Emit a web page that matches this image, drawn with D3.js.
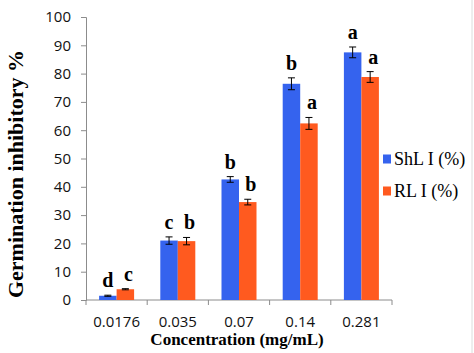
<!DOCTYPE html>
<html>
<head>
<meta charset="utf-8">
<script src="https://cdn.jsdelivr.net/npm/d3@7"></script>
<style>
  body { margin: 0; background: #fff; }
  svg { display: block; }
</style>
</head>
<body>
<div id="chart"></div>
<script>
// germination inhibition by concentration, two series with error bars and letter groups
const categories = ["0.0176", "0.035", "0.07", "0.14", "0.281"];
const seriesNames = ["ShL I (%)", "RL I (%)"];
const shlValues = [1.5, 21.0, 42.6, 76.4, 87.5];
const rlValues = [3.8, 20.8, 34.6, 62.4, 78.8];
const shlErrors = [0.2, 1.3, 1.0, 2.1, 1.9];
const rlErrors = [0.2, 1.3, 1.0, 2.1, 1.9];
const shlLetters = ["d", "c", "b", "b", "a"];
const rlLetters = ["c", "b", "b", "a", "a"];
const yTicks = [0, 10, 20, 30, 40, 50, 60, 70, 80, 90, 100];

const W = 474, H = 353;
const margin = { top: 17, right: 82, bottom: 53, left: 86 };
const width = W - margin.left - margin.right;
const height = H - margin.top - margin.bottom;
const colors = ["#3563ee", "#ff5a1f"];

const svg = d3.select("#chart")
  .append("svg")
  .attr("width", W)
  .attr("height", H);

// light frame line at the right edge
svg.append("line")
  .attr("x1", 472).attr("x2", 472)
  .attr("y1", 0).attr("y2", H)
  .attr("stroke", "#dcdcdc");

const g = svg.append("g")
  .attr("transform", `translate(${margin.left},${margin.top})`);

const x0 = d3.scaleBand().domain(categories).range([0, width]).padding(0);
const groupW = 35;
const x1 = d3.scaleBand().domain(seriesNames).range([0, groupW]).padding(0);
const y = d3.scaleLinear().domain([0, 100]).range([height, 0]);

// y axis
const yAxis = g.append("g")
  .call(d3.axisLeft(y).tickValues(yTicks).tickSize(5).tickPadding(10));
yAxis.select(".domain").attr("stroke", "#8c8c8c");
yAxis.selectAll(".tick line").attr("stroke", "#8c8c8c");
yAxis.selectAll("text")
  .attr("font-family", "Open Sans")
  .attr("font-size", 15)
  .attr("fill", "#111");

// x axis, ticks at category boundaries
const xAxis = g.append("g")
  .attr("transform", `translate(0,${height})`);
xAxis.append("line")
  .attr("x1", 0).attr("x2", width)
  .attr("stroke", "#8c8c8c");
const bounds = categories.map(c => x0(c)).concat([width]);
xAxis.selectAll(".xtick")
  .data(bounds)
  .enter().append("line")
  .attr("x1", d => d).attr("x2", d => d)
  .attr("y1", 0).attr("y2", 5)
  .attr("stroke", "#8c8c8c");
xAxis.selectAll(".xlabel")
  .data(categories)
  .enter().append("text")
  .attr("x", d => x0(d) + x0.bandwidth() / 2)
  .attr("y", 27)
  .attr("text-anchor", "middle")
  .attr("font-family", "Open Sans")
  .attr("font-size", 15)
  .attr("fill", "#111")
  .text(d => d);

const rows = categories.map((c, i) => ({
  cat: c,
  items: [
    { name: seriesNames[0], v: shlValues[i], e: shlErrors[i], l: shlLetters[i], k: 0 },
    { name: seriesNames[1], v: rlValues[i], e: rlErrors[i], l: rlLetters[i], k: 1 }
  ]
}));

const groups = g.selectAll(".grp")
  .data(rows)
  .enter().append("g")
  .attr("transform", d => `translate(${x0(d.cat) + (x0.bandwidth() - groupW) / 2},0)`);

const items = groups.selectAll(".item")
  .data(d => d.items)
  .enter().append("g");

items.append("rect")
  .attr("x", d => x1(d.name))
  .attr("y", d => y(d.v))
  .attr("width", x1.bandwidth())
  .attr("height", d => height - y(d.v))
  .attr("fill", d => colors[d.k]);

const cx = d => x1(d.name) + x1.bandwidth() / 2;
items.append("line")
  .attr("x1", cx).attr("x2", cx)
  .attr("y1", d => y(d.v + d.e)).attr("y2", d => y(d.v - d.e))
  .attr("stroke", "#000");
items.append("line")
  .attr("x1", d => cx(d) - 3.5).attr("x2", d => cx(d) + 3.5)
  .attr("y1", d => y(d.v + d.e)).attr("y2", d => y(d.v + d.e))
  .attr("stroke", "#000");
items.append("line")
  .attr("x1", d => cx(d) - 3.5).attr("x2", d => cx(d) + 3.5)
  .attr("y1", d => y(d.v - d.e)).attr("y2", d => y(d.v - d.e))
  .attr("stroke", "#000");

items.append("text")
  .attr("x", d => cx(d) + d.k * 3)
  .attr("y", d => y(d.v + d.e) - 8)
  .attr("text-anchor", "middle")
  .attr("font-family", "Liberation Serif")
  .attr("font-weight", "bold")
  .attr("font-size", 20)
  .text(d => d.l);

// axis titles
svg.append("text")
  .attr("transform", "translate(23,174) rotate(-90)")
  .attr("text-anchor", "middle")
  .attr("font-family", "Liberation Serif")
  .attr("font-weight", "bold")
  .attr("font-size", 22)
  .text("Germination inhibitory %");

svg.append("text")
  .attr("x", 237)
  .attr("y", 345)
  .attr("text-anchor", "middle")
  .attr("font-family", "Liberation Serif")
  .attr("font-weight", "bold")
  .attr("font-size", 17)
  .text("Concentration (mg/mL)");

// legend
const legend = svg.append("g")
  .attr("transform", "translate(383,159)");
const li = legend.selectAll(".li")
  .data(seriesNames)
  .enter().append("g")
  .attr("transform", (d, i) => `translate(0,${i * 32})`);
li.append("rect")
  .attr("x", 0).attr("y", -4.5)
  .attr("width", 8).attr("height", 9)
  .attr("fill", (d, i) => colors[i]);
li.append("text")
  .attr("x", 11)
  .attr("y", 6)
  .attr("font-family", "Liberation Serif")
  .attr("font-size", 18)
  .text(d => d);
</script>
</body>
</html>
